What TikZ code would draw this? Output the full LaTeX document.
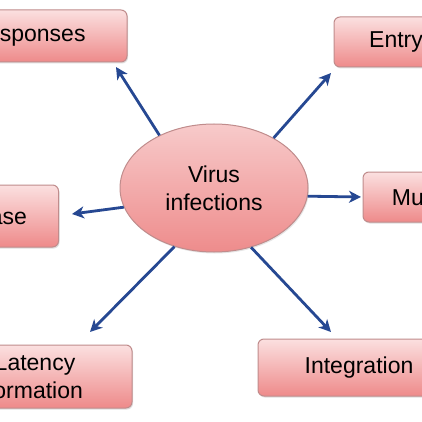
\documentclass[tikz,border=0pt]{standalone}
\usepackage{fontspec}
\setmainfont{Liberation Sans}
\usetikzlibrary{arrows.meta,shapes.geometric,shadows}
\definecolor{arrblue}{HTML}{264892}
\definecolor{boxedge}{HTML}{C08C8C}
\definecolor{boxtop}{HTML}{FBE0E0}
\definecolor{boxbot}{HTML}{EE8A8A}
\definecolor{elltop}{HTML}{F7CACA}
\definecolor{ellbot}{HTML}{EE8C8C}
\tikzset{
  pinkbox/.style={draw=boxedge, line width=1pt, rounded corners=6pt,
    top color=boxtop, bottom color=boxbot, inner sep=0pt, align=center,
    font=\fontsize{23}{28}\selectfont,
    drop shadow={shadow xshift=1pt, shadow yshift=-1.5pt, opacity=0.25}},
  virusell/.style={ellipse, draw=boxedge, line width=1pt,
    top color=elltop, bottom color=ellbot, inner sep=0pt, align=center,
    minimum width=188pt, minimum height=128pt,
    font=\fontsize{23}{28}\selectfont,
    drop shadow={shadow xshift=1pt, shadow yshift=-1.5pt, opacity=0.2}},
  arr/.style={draw=arrblue, line width=2.8pt,
    -{Stealth[length=12pt,width=12pt,inset=3.5pt]}}
}
\begin{document}
\begin{tikzpicture}[x=1pt,y=-1pt]
\useasboundingbox (0,0) rectangle (422,422);
\fill[white] (0,0) rectangle (422,422);
\clip (0,0) rectangle (422,422);
% boxes
\node[pinkbox, minimum width=198pt, minimum height=52pt] (resp) at (28,36) {Responses};
\node[pinkbox, minimum width=124pt, minimum height=50pt] (entry) at (396,42) {Entry};
\node[pinkbox, minimum width=146pt, minimum height=50pt] (mut) at (436,197) {Mutation};
\node[pinkbox, minimum width=146pt, minimum height=62pt] (dis) at (-14.5,216) {Disease};
\node[pinkbox, minimum width=194pt, minimum height=63pt] (lat) at (35,376.5) {Latency\\formation};
\node[pinkbox, minimum width=202pt, minimum height=57pt] (integ) at (359,367.5) {Integration};
% central ellipse
\node[virusell] (vi) at (214,188) {Virus\\infections};
% arrow tips
\coordinate (tresp) at (116,67);
\coordinate (tentry) at (331,73);
\coordinate (tmut) at (361,197);
\coordinate (tdis) at (72,214);
\coordinate (tlat) at (90,332);
\coordinate (tinteg) at (331,332);
% connectors
\draw[arr] (vi.136) -- (tresp);
\draw[arr] (vi.40) -- (tentry);
\draw[arr] (vi.-5.5) -- (tmut);
\draw[arr] (vi.192) -- (tdis);
\draw[arr] (vi.236) -- (tlat);
\draw[arr] (vi.302.5) -- (tinteg);
\end{tikzpicture}
\end{document}
